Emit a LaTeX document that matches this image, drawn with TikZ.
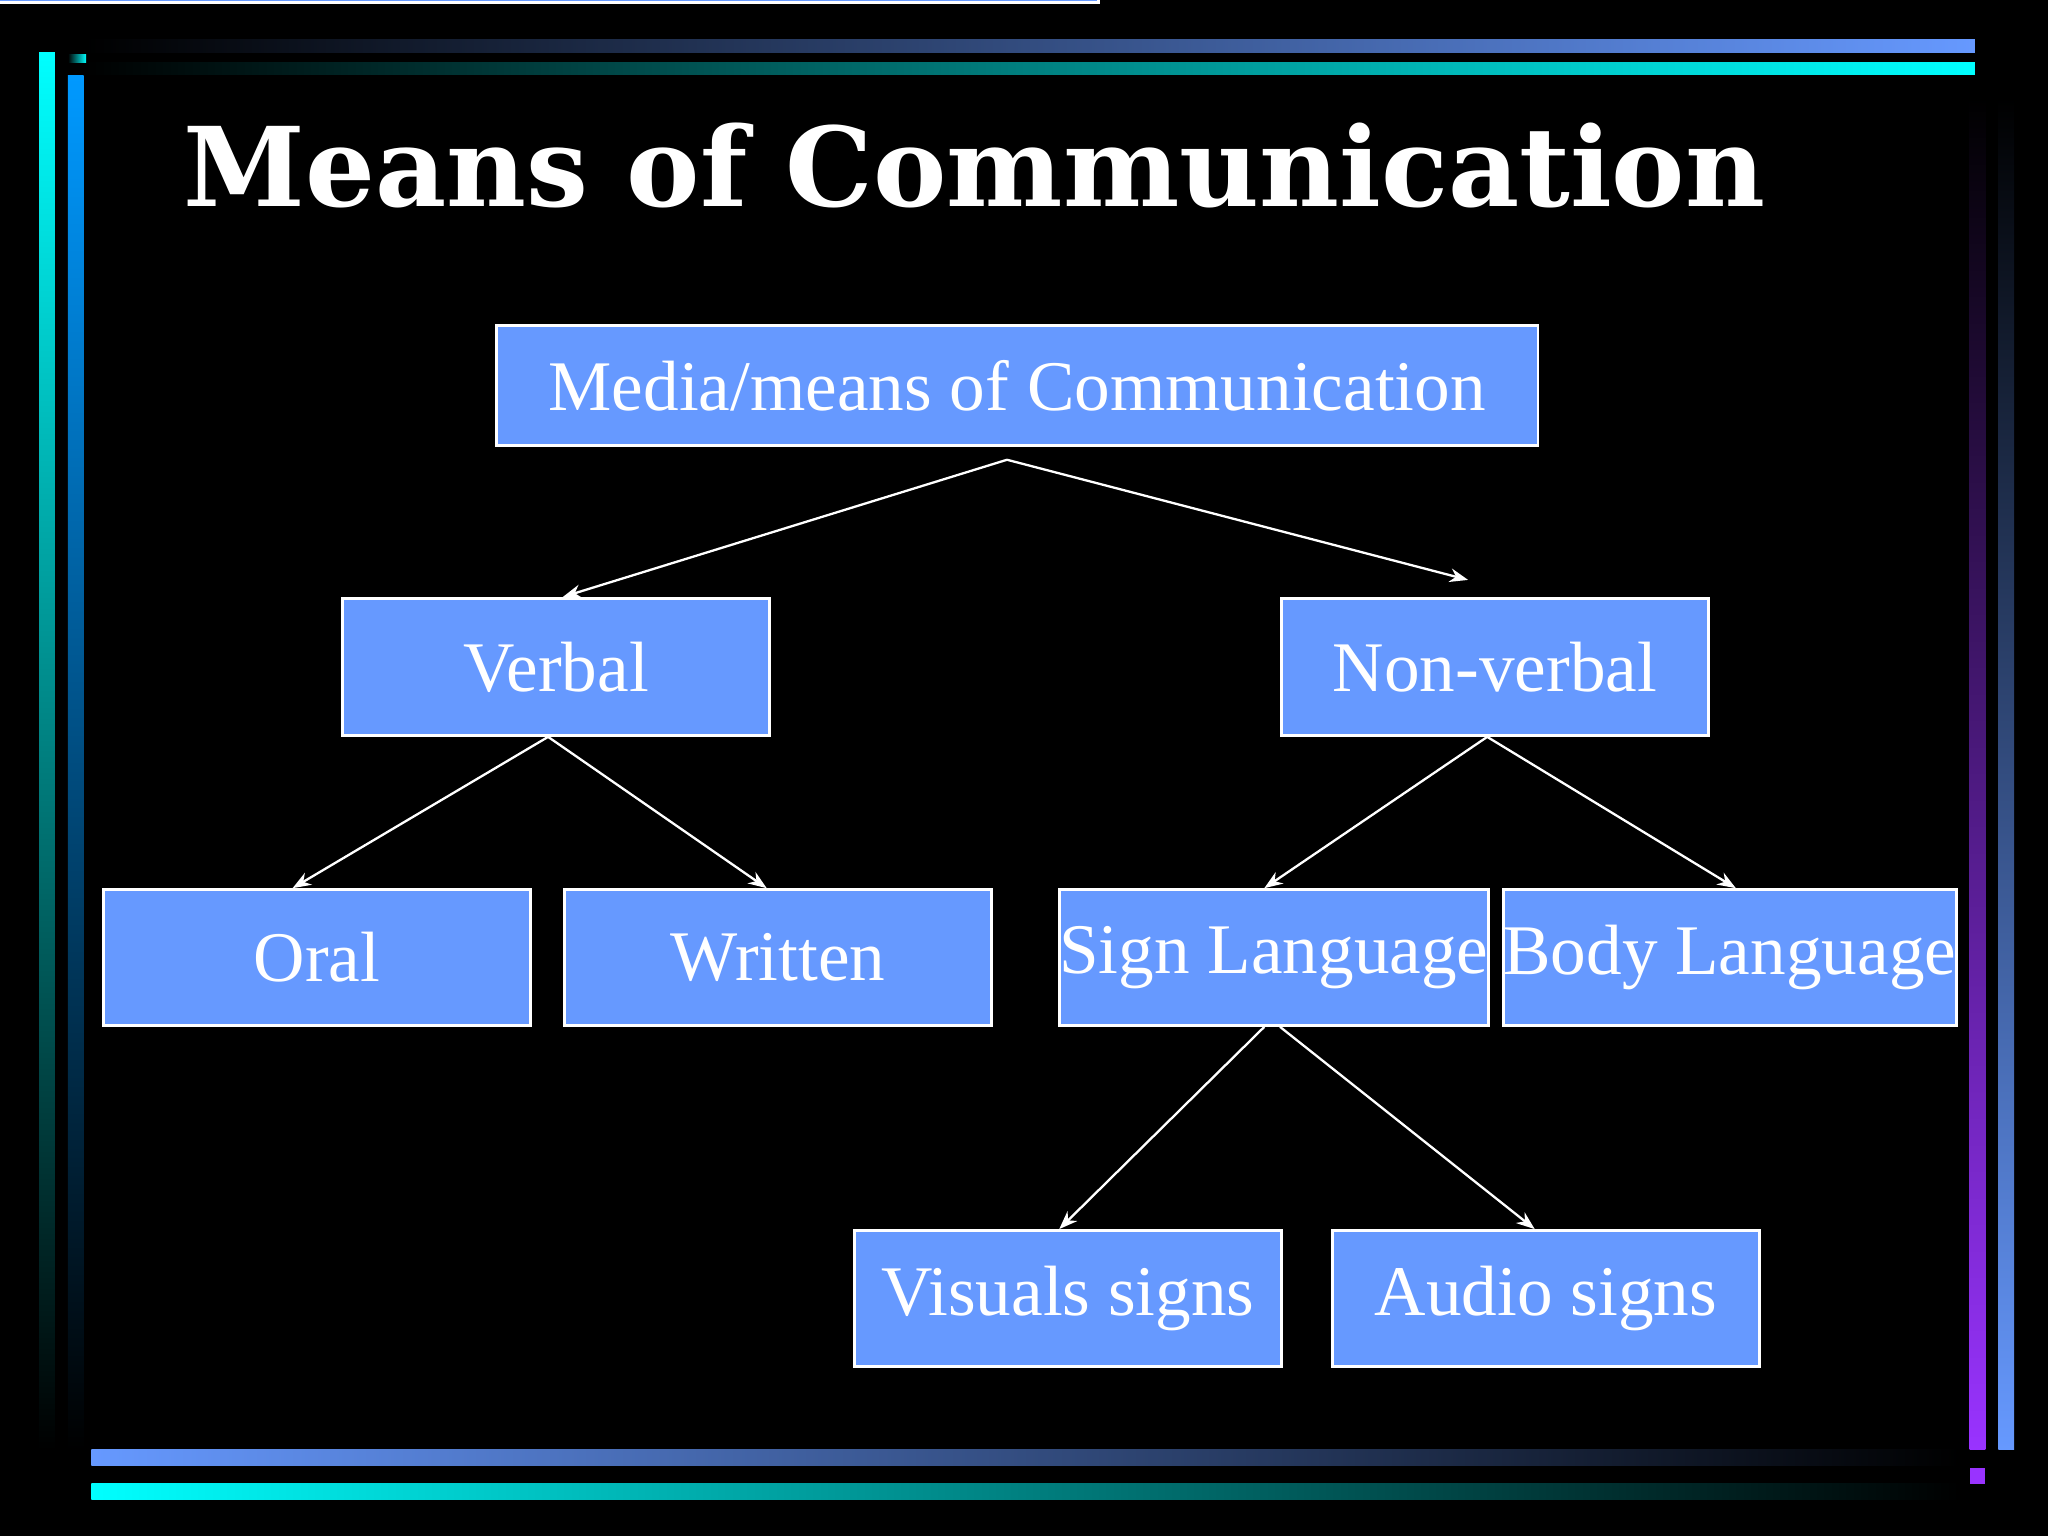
\documentclass[tikz,border=0pt]{standalone}
\usepackage{fontspec}
\setmainfont{Liberation Serif}
\newfontfamily\titlefont{DejaVu Serif}
\usetikzlibrary{arrows.meta}
\definecolor{boxblue}{HTML}{6699FF}
\definecolor{cyanb}{HTML}{00FFFF}
\definecolor{purp}{HTML}{9933FF}
\begin{document}
\begin{tikzpicture}[x=0.01cm,y=-0.01cm,
  box/.style={draw=white,line width=0.6pt,fill=boxblue,text=white,font=\fontsize{15.5}{18}\selectfont,inner sep=0pt},
  conn/.style={draw=white,line width=0.5pt,-{Stealth[length=4pt,width=3pt]}}]
\fill[black] (0,0) rectangle (1568,1176);
\useasboundingbox (0,0) rectangle (1568,1176);
% border bars
\shade[left color=black,right color=boxblue] (65,30) rectangle (1512,40);
\shade[left color=black,right color=cyanb] (65,48) rectangle (1512,57);
\shade[left color=black,right color=cyanb] (52,42) rectangle (66,48);
\shade[top color=cyanb,bottom color=black] (30,40) rectangle (42,1110);
\shade[top color=cyanb!60!blue,bottom color=black] (52,58) rectangle (64,1110);
\shade[top color=black,bottom color=purp] (1508,75) rectangle (1520,1110);
\shade[top color=black,bottom color=boxblue] (1530,75) rectangle (1542,1110);
\shade[left color=boxblue,right color=black] (70,1110) rectangle (1500,1122);
\shade[left color=cyanb,right color=black] (70,1136) rectangle (1500,1148);
\fill[purp] (1508,1124) rectangle (1520,1136);
% title
\node[anchor=west,text=white,inner sep=0pt] (title) at (140,127)
  {\resizebox{12.1cm}{!}{\titlefont\bfseries Means of Communication}};
% boxes
\node[box,minimum width=797\pgflinewidth] at (0,0) {};
\node[box,anchor=north west,minimum width=7.97cm,minimum height=0.92cm] (media) at (379,248) {Media/means of Communication};
\node[box,anchor=north west,minimum width=3.27cm,minimum height=1.05cm] (verbal) at (261,457) {Verbal};
\node[box,anchor=north west,minimum width=3.27cm,minimum height=1.05cm] (nonverbal) at (980,457) {Non-verbal};
\node[box,anchor=north west,minimum width=3.27cm,minimum height=1.04cm] (oral) at (78,680) {Oral};
\node[box,anchor=north west,minimum width=3.27cm,minimum height=1.04cm] (written) at (431,680) {Written};
\node[box,anchor=north west,minimum width=3.27cm,minimum height=1.04cm] (sign) at (810,680) {Sign Language};
\node[box,anchor=north west,minimum width=3.40cm,minimum height=1.04cm] (body) at (1150,680) {Body Language};
\node[box,anchor=north west,minimum width=3.27cm,minimum height=1.04cm] (visual) at (653,941) {Visuals signs};
\node[box,anchor=north west,minimum width=3.27cm,minimum height=1.04cm] (audio) at (1019,941) {Audio signs};
% connector points
\coordinate (m0) at (771,352);
\coordinate (nvt) at (1124,444);
\draw[conn] (m0) -- (verbal.north west -| 431,457);
\draw[conn] (m0) -- (nvt);
\draw[conn] (verbal.south) ++(-6,0) coordinate (v0) -- (oral.north -| 224,680);
\draw[conn] (v0) -- (written.north -| 587,680);
\draw[conn] (nonverbal.south) ++(-6,0) coordinate (n0) -- (sign.north -| 968,680);
\draw[conn] (n0) -- (body.north -| 1329,680);
\draw[conn] (sign.south -| 968,784) -- (visual.north -| 811,941);
\draw[conn] (sign.south -| 980,784) -- (audio.north -| 1175,941);
\end{tikzpicture}
\end{document}
